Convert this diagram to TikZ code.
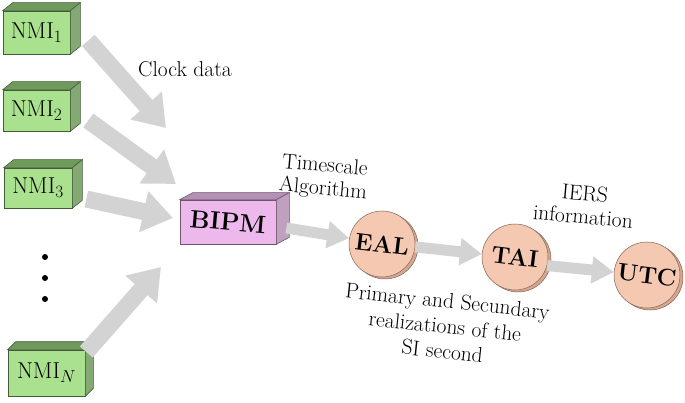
\documentclass[tikz,border=0pt]{standalone}
\usetikzlibrary{arrows.meta,calc}
\definecolor{nmifront}{HTML}{A9E18F}
\definecolor{nmiside}{HTML}{6E9A5B}
\definecolor{bipmfront}{HTML}{EDB8EC}
\definecolor{bipmside}{HTML}{B58FB4}
\definecolor{discfill}{HTML}{F4C8B1}
\definecolor{discside}{HTML}{D6A690}
\definecolor{arrowgray}{HTML}{D3D3D3}
\newcommand{\cubefaces}[4]{%
  \filldraw[fill=#2, draw=#2!60!black, line width=0.6pt]
    (#1.north west) -- ++(#3,-#4) -- ($(#1.north east)+(#3,-#4)$) -- (#1.north east) -- cycle;
  \filldraw[fill=#2!85!white, draw=#2!60!black, line width=0.6pt]
    (#1.north east) -- ++(#3,-#4) -- ($(#1.south east)+(#3,-#4)$) -- (#1.south east) -- cycle;}
\newcommand{\discside}[1]{%
  \filldraw[fill=discside, draw=discside!60!black, line width=0.5pt] ($(#1)+(3,2)$) circle (33);}
\begin{document}
\begin{tikzpicture}[x=1pt,y=-1pt,
  nmibox/.style={draw=nmiside!60!black, line width=0.6pt, fill=nmifront, inner sep=0pt,
    font=\fontsize{23}{27}\selectfont},
  bipmbox/.style={draw=bipmside!60!black, line width=0.6pt, fill=bipmfront, inner sep=0pt},
  disc/.style={circle, draw=discside!60!black, line width=0.5pt, fill=discfill,
    minimum size=66pt, inner sep=0pt},
  disclbl/.style={font=\fontsize{24}{28}\selectfont\bfseries, rotate=-7, inner sep=0pt},
  lbl/.style={font=\fontsize{21.5}{23}\selectfont, align=center, inner sep=0pt},
  bigarrow/.style={draw=arrowgray, line width=17pt, -{Triangle[width=40pt,length=30pt]}},
  smallarrow/.style={draw=arrowgray, line width=11pt, -{Triangle[width=26pt,length=22pt]}},
  dot/.style={circle, fill=black, minimum size=6pt, inner sep=0pt}]
\useasboundingbox (0,0) rectangle (685,403);

% NMI boxes
\node[nmibox, minimum width=67pt, minimum height=43pt] (nmi1) at (36.5,32.5) {NMI$_1$};
\cubefaces{nmi1}{nmiside}{10}{8}
\node[nmibox, minimum width=67pt, minimum height=41pt] (nmi2) at (36.5,110.5) {NMI$_2$};
\cubefaces{nmi2}{nmiside}{10}{8}
\node[nmibox, minimum width=68pt, minimum height=40pt] (nmi3) at (38,188) {NMI$_3$};
\cubefaces{nmi3}{nmiside}{10}{8}
\node[nmibox, minimum width=77pt, minimum height=46pt] (nmin) at (46.5,373) {NMI$_N$};
\cubefaces{nmin}{nmiside}{8}{8}

\node[dot] (d1) at (45,257) {};
\node[dot] (d2) at (45,278) {};
\node[dot] (d3) at (45,299) {};

% BIPM
\node[bipmbox, minimum width=96pt, minimum height=44pt] (bipm) at (228,222) {};
\cubefaces{bipm}{bipmside}{13}{7}
\node[font=\fontsize{25}{28}\selectfont\bfseries, rotate=-5, inner sep=0pt] (bipmtxt) at (bipm) {BIPM};

% discs
\discside{382,244}
\node[disc] (eal) at (382,244) {};
\node[disclbl] (ealtxt) at (eal) {EAL};
\discside{515,257}
\node[disc] (tai) at (515,257) {};
\node[disclbl] (taitxt) at (tai) {TAI};
\discside{647,275}
\node[disc] (utc) at (647,275) {};
\node[disclbl] (utctxt) at (utc) {UTC};

% arrow heads (free ends)
\coordinate (h1) at (166,128);
\coordinate (h2) at (176,184);
\coordinate (h3) at (173,218);
\coordinate (h4) at (161,267);

\draw[bigarrow] ($(nmi1.east)+(18,8)$) -- (h1);
\draw[bigarrow] ($(nmi2.east)+(18,10)$) -- (h2);
\draw[bigarrow] ($(nmi3.east)+(14,11)$) -- (h3);
\draw[bigarrow] ($(nmin.east)+(1,-21)$) -- (h4);

\draw[smallarrow] ($(bipm.east)+(10,6)$) -- (eal.170);
\draw[smallarrow] (eal.-5) -- (tai.175);
\draw[smallarrow] (tai.-15) -- (utc.175);

% labels
\node[lbl] (clock) at (185,69) {Clock data};
\node[lbl, rotate=-5] (tsa) at (324,178) {Timescale\\Algorithm};
\node[lbl, rotate=-5] (iers) at (584,205) {IERS\\information};
\node[lbl, rotate=-6, font=\fontsize{21.5}{25}\selectfont] (prim) at (445,326) {Primary and Secundary\\realizations of the\\SI second};
\end{tikzpicture}
\end{document}
